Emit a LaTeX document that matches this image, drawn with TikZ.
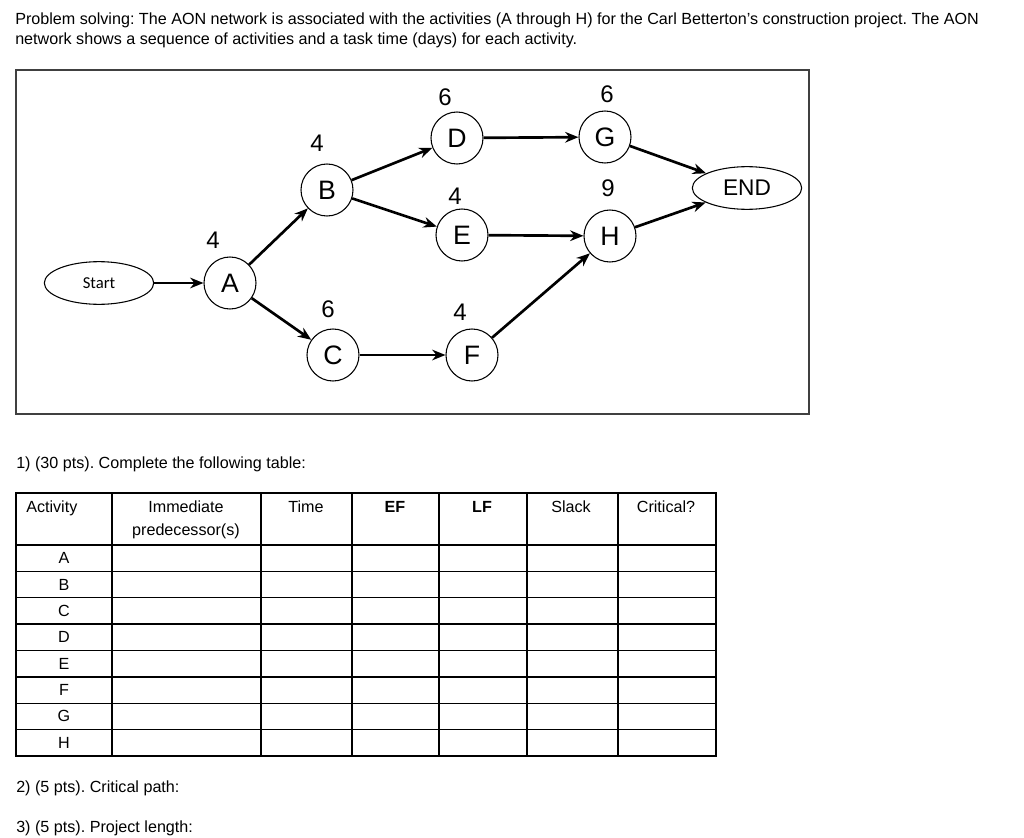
\documentclass[tikz,border=0pt]{standalone}
\usepackage{fontspec}
\setmainfont{Liberation Sans}
\newfontfamily\startfont{Carlito}
\usetikzlibrary{arrows.meta,shapes.geometric}
\frenchspacing

\begin{document}
\begin{tikzpicture}[x=0.75pt, y=-0.75pt, font=\fontsize{12.1}{15}\selectfont,
  act/.style={circle, draw, line width=0.8pt, minimum size=39pt, inner sep=0pt,
    font=\fontsize{20}{20}\selectfont},
  term/.style={ellipse, draw, line width=0.8pt, minimum width=82pt,
    minimum height=32pt, inner sep=0pt},
  dur/.style={font=\fontsize{18}{18}\selectfont},
  link/.style={line width=2pt, -{Stealth[length=10pt,width=8pt]}},
  cell/.style={line width=1pt},
  txt/.style={anchor=base west, inner sep=0pt}]
  \useasboundingbox (0,0) rectangle (1024,838);

  % Problem statement
  \node[txt] (intro1) at (15,25) {Problem solving: The AON network is associated with the activities (A through H) for the Carl Betterton’s construction project. The AON};
  \node[txt] (intro2) at (15,45) {network shows a sequence of activities and a task time (days) for each activity.};

  % Frame round the network
  \draw[line width=1.2pt, black!75] (16,70) rectangle (809,414);

  % Activity nodes
  \node[term, font=\startfont\fontsize{12.5}{12.5}\selectfont] (start) at (99,283) {Start};
  \node[act] (A) at (230,283) {A};
  \node[act] (B) at (327,190) {B};
  \node[act] (C) at (333,355) {C};
  \node[act] (D) at (457,138) {D};
  \node[act] (E) at (462,235) {E};
  \node[act] (F) at (472,355) {F};
  \node[act] (G) at (605,137) {G};
  \node[act] (H) at (610,236) {H};
  \node[term, font=\fontsize{17}{17}\selectfont] (finish) at (747,188) {END};

  % Task times above the nodes
  \node[dur] (tA) at (213,240) {4};
  \node[dur] (tB) at (317,143) {4};
  \node[dur] (tC) at (328,309) {6};
  \node[dur] (tD) at (445,97) {6};
  \node[dur] (tE) at (455,196) {4};
  \node[dur] (tF) at (460,312) {4};
  \node[dur] (tG) at (607,94) {6};
  \node[dur] (tH) at (608,188) {9};

  % Precedence arrows
  \draw[link] (start) -- (A);
  \draw[link] (A) -- (B);
  \draw[link] (A) -- (C);
  \draw[link] (B) -- (D);
  \draw[link] (B) -- (E);
  \draw[link] (C) -- (F);
  \draw[link] (D) -- (G);
  \draw[link] (E) -- (H);
  \draw[link] (F) -- (H);
  \draw[link] (G) -- (finish);
  \draw[link] (H) -- (finish);

  % Question 1 and its table
  \node[txt] (q1) at (16,468) {1) (30 pts). Complete the following table:};
  \draw[cell] (16,493) rectangle (716,756);
  \foreach \x in {112,261,352,439,527,618}
    \draw[cell] (\x,493) -- (\x,756);
  \foreach \i in {0,...,7}
    \draw[cell] (16,{545+\i*26.375}) -- (716,{545+\i*26.375});

  % Header cells
  \node[txt] (hAct) at (26,512) {Activity};
  \node[anchor=base, inner sep=0pt] (hPre1) at (186,512) {Immediate};
  \node[anchor=base, inner sep=0pt] (hPre2) at (186,535) {predecessor(s)};
  \node[anchor=base, inner sep=0pt] (hTime) at (306,512) {Time};
  \node[anchor=base, inner sep=0pt, font=\fontsize{12.1}{15}\selectfont\bfseries] (hEF) at (395,512) {EF};
  \node[anchor=base, inner sep=0pt, font=\fontsize{12.1}{15}\selectfont\bfseries] (hLF) at (482,512) {LF};
  \node[anchor=base, inner sep=0pt] (hSlack) at (571,512) {Slack};
  \node[anchor=base, inner sep=0pt] (hCrit) at (666,512) {Critical?};

  % Row labels
  \foreach \l [count=\i] in {A,B,C,D,E,F,G,H}
    \node (row\l) at (64,{545+(\i-0.5)*26.375}) {\l};

  % Questions 2 and 3
  \node[txt] (q2) at (16,792) {2) (5 pts). Critical path:};
  \node[txt] (q3) at (16,832) {3) (5 pts). Project length:};
\end{tikzpicture}
\end{document}
